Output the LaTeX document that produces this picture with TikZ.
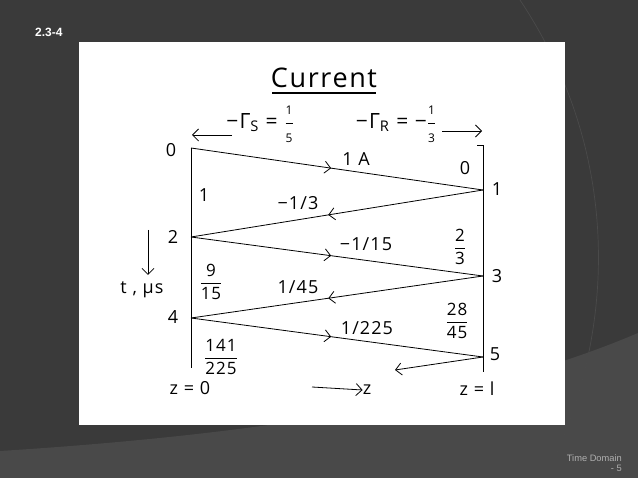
\documentclass[tikz,border=0pt]{standalone}
\usepackage{fontspec}
\setmainfont[LetterSpace=6]{Open Sans}
\newfontfamily\plainf{Open Sans}
\newfontfamily\arialf{Liberation Sans}
\usetikzlibrary{arrows.meta,decorations.markings}
\definecolor{slidebg}{HTML}{3A3A3A}
\definecolor{slideband}{HTML}{494949}
\definecolor{slidearc}{HTML}{4A4A4A}
\definecolor{footgray}{HTML}{AFAFAF}
\newcommand\hfr[2]{$\displaystyle\frac{\mbox{#1}}{\mbox{#2}}$}
\newcommand\sfr[2]{$\displaystyle\frac{\mbox{\plainf\fontsize{12}{12}\selectfont #1}}{\mbox{\plainf\fontsize{12}{12}\selectfont #2}}$}
\tikzset{
  barb/.tip={Straight Barb[length=6pt,width=12pt,line width=0.8pt]},
  wire/.style={line width=0.9pt, black},
  rayr/.style={line width=0.8pt, black, postaction={decorate},
    decoration={markings, mark=at position 0.48 with {\arrow{barb}}}},
  rayl/.style={line width=0.8pt, black, postaction={decorate},
    decoration={markings, mark=at position 0.53 with {\arrow{barb}}}},
  pt/.style={inner sep=0pt, font=\fontsize{18}{20}\selectfont},
  lbl/.style={inner sep=0pt, font=\fontsize{18}{20}\selectfont},
  frc/.style={inner sep=0pt, font=\fontsize{17}{19}\selectfont},
  hdr/.style={inner sep=0pt, font=\fontsize{21}{23}\selectfont},
  openarrow/.style={line width=0.8pt, -barb},
}
\begin{document}
\begin{tikzpicture}[x=1pt,y=-1pt]
\useasboundingbox (0,0) rectangle (638,478);
% slide background
\fill[slidebg] (0,0) rectangle (638,478);
\fill[slideband] (0,451) .. controls (300,432) and (500,392) .. (638,333) -- (638,478) -- (0,478) -- cycle;
\draw[line width=0.7pt, color=slidearc] (520,0) .. controls (620,150) and (620,330) .. (545,478);
\node[anchor=west, inner sep=0pt, text=white, font=\arialf\bfseries\fontsize{12}{13}\selectfont] (slidenum) at (35,32) {2.3-4};
\node[anchor=east, inner sep=0pt, text=footgray, font=\arialf\fontsize{9.3}{10}\selectfont] (foot1) at (622,458) {Time Domain};
\node[anchor=east, inner sep=0pt, text=footgray, font=\arialf\fontsize{9.3}{10}\selectfont] (foot2) at (622,468) {- 5};
% white panel
\fill[white] (79,42) rectangle (565,425);
% title
\node[inner sep=0pt, font=\fontsize{27}{29}\selectfont] (title) at (324,78) {Current};
\draw[line width=1.3pt] (272,93) -- (376,93);
% reflection coefficients
\node[hdr] (gs) at (260,124) {−Γ\textsubscript{S} = \sfr{1}{5}};
\node[hdr] (gr) at (396,124) {−Γ\textsubscript{R} = −\sfr{1}{3}};
\coordinate (gsa) at (232,135);
\coordinate (gsb) at (192,135);
\coordinate (gra) at (442,131);
\coordinate (grb) at (482,131);
\draw[openarrow] (gsa) -- (gsb);
\draw[openarrow] (gra) -- (grb);
% lattice points
\coordinate (s0) at (191,148);
\coordinate (r1) at (483,190);
\coordinate (s2) at (191,237);
\coordinate (r3) at (483,276);
\coordinate (s4) at (191,318);
\coordinate (r5) at (483,357);
\coordinate (sbot) at (191,368);
\coordinate (rtop) at (483,145);
\coordinate (rtick) at (477,145);
\coordinate (rbot) at (483,372);
\coordinate (tail) at (395,370);
% vertical lines
\draw[wire] (s0) -- (sbot);
\draw[wire] (rtick) -- (rtop) -- (rbot);
% bouncing waves
\draw[rayr] (s0) -- (r1);
\draw[rayl] (r1) -- (s2);
\draw[rayr] (s2) -- (r3);
\draw[rayl] (r3) -- (s4);
\draw[rayr] (s4) -- (r5);
\draw[openarrow] (r5) -- (tail);
% time labels
\node[pt] (t0) at (171,150) {0};
\node[pt] (t1) at (497,189) {1};
\node[pt] (t2) at (173,237) {2};
\node[pt] (t3) at (497,276) {3};
\node[pt] (t4) at (173,317) {4};
\node[pt] (t5) at (495,354) {5};
% wave labels
\node[lbl] (w1) at (356,159) {1 A};
\node[lbl] (w2) at (298,203) {−1/3};
\node[lbl] (w3) at (366,244) {−1/15};
\node[lbl] (w4) at (298,287) {1/45};
\node[lbl] (w5) at (367,328) {1/225};
% total current labels
\node[pt] (cr0) at (465,168) {0};
\node[pt] (cs1) at (204,195) {1};
\node[frc] (cr1) at (460,247) {\hfr{2}{3}};
\node[frc] (cs2) at (211,282) {\hfr{9}{15}};
\node[frc] (cr2) at (457,321) {\hfr{28}{45}};
\node[frc] (cs3) at (221,357) {\hfr{141}{225}};
% time axis
\node[lbl] (tax) at (142,290) {t , μs};
\coordinate (ta) at (148,230);
\coordinate (tb) at (148,275);
\draw[openarrow] (ta) -- (tb);
% z axis
\node[lbl] (z0) at (190,388) {z = 0};
\node[lbl] (zl) at (477,389) {z = l};
\node[lbl] (zz) at (367,390) {z};
\coordinate (za) at (312,387);
\draw[openarrow] (za) -- (zz.west);
\end{tikzpicture}
\end{document}
